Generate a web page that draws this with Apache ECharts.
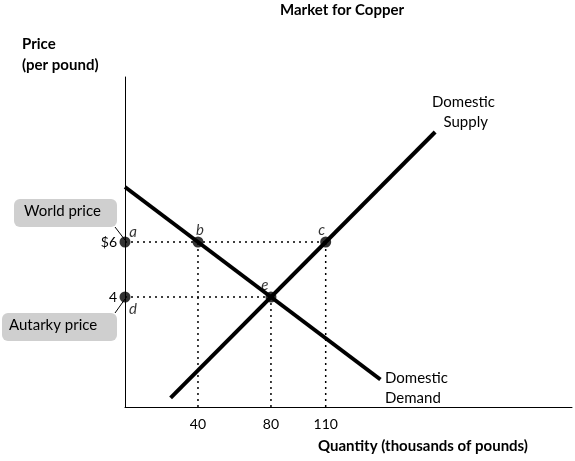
<!DOCTYPE html>
<html>
<head>
<meta charset="utf-8">
<script src="https://cdn.jsdelivr.net/npm/echarts@6/dist/echarts.min.js"></script>
<style>body{margin:0}#main{width:575px;height:461px}</style>
</head>
<body>
<div id="main"></div>
<script>
// data
var demand = [[0, 8], [140, 1]];
var supply = [[25, 0.333], [170, 10]];
var points = [
    {name: 'a', value: [0, 6], pos: [8, -10]},
    {name: 'b', value: [40, 6], pos: [2, -12]},
    {name: 'c', value: [110, 6], pos: [-4, -12]},
    {name: 'e', value: [80, 4], pos: [-6, -12]},
    {name: 'd', value: [0, 4], pos: [8, 12]}
];
var xTicks = [40, 80, 110];
var yTicks = [4, 6];
var dotted = [
    [[0, 6], [110, 6]], [[0, 4], [80, 4]],
    [[40, 0], [40, 6]], [[80, 0], [80, 4]], [[110, 0], [110, 6]]
];

var font = 'Lato';
var myChart = echarts.init(document.getElementById('main'));
var series = [];
dotted.forEach(function (d) {
    series.push({type: 'line', data: d, symbol: 'none', silent: true,
        lineStyle: {color: '#000', width: 1.5, type: [2, 4]}});
});
series.push({type: 'line', data: demand, symbol: 'none', lineStyle: {color: '#000', width: 4}});
series.push({type: 'line', data: supply, symbol: 'none', lineStyle: {color: '#000', width: 4}});
series.push({
    type: 'scatter', symbolSize: 11, itemStyle: {color: '#000'},
    data: points.map(function (p) {
        return {value: p.value, label: {show: true, formatter: p.name, offset: p.pos}};
    }),
    label: {position: 'inside', color: '#000', fontSize: 15, fontStyle: 'italic', fontFamily: font},
    z: 5
});

var option = {
    animation: false,
    textStyle: {fontFamily: font},
    grid: {left: 125, right: 3, top: 77, bottom: 54},
    xAxis: {
        type: 'value', min: 0, max: 245, splitLine: {show: false},
        axisLine: {lineStyle: {color: '#000', width: 1}},
        axisTick: {show: false},
        axisLabel: {customValues: xTicks, color: '#000', fontSize: 14, margin: 10, fontFamily: font}
    },
    yAxis: {
        type: 'value', min: 0, max: 12, splitLine: {show: false},
        axisLine: {show: true, lineStyle: {color: '#000', width: 1}},
        axisTick: {show: false},
        axisLabel: {customValues: yTicks, color: '#000', fontSize: 14, margin: 8, fontFamily: font,
            formatter: function (v) { return v === 6 ? '$6' : String(v); }}
    },
    graphic: [
        {type: 'text', left: 'center', top: 3, style: {text: 'Market for Copper', x: 340, font: 'bold 15px Lato', fill: '#000'}, left: 280},
        {type: 'text', left: 20, top: 34, style: {text: 'Price\n(per pound)', font: 'bold 15px Lato', fill: '#000', align: 'center', lineHeight: 21}, left: 22},
        {type: 'text', left: 318, top: 439, style: {text: 'Quantity (thousands of pounds)', font: 'bold 15px Lato', fill: '#000'}},
        {type: 'text', left: 432, top: 92, style: {text: 'Domestic\n   Supply', font: '15px Lato', fill: '#000', lineHeight: 20}},
        {type: 'text', left: 385, top: 368, style: {text: 'Domestic\nDemand', font: '15px Lato', fill: '#000', lineHeight: 20}},
        {type: 'rect', shape: {x: 14, y: 199, width: 103, height: 28, r: 6}, style: {fill: '#cfcfcf'}},
        {type: 'text', left: 24, top: 204, style: {text: 'World price', font: '15px Lato', fill: '#000'}},
        {type: 'line', shape: {x1: 115, y1: 227, x2: 125, y2: 240}, style: {stroke: '#000', lineWidth: 1}},
        {type: 'rect', shape: {x: 2, y: 313, width: 115, height: 28, r: 6}, style: {fill: '#cfcfcf'}},
        {type: 'text', left: 9, top: 318, style: {text: 'Autarky price', font: '15px Lato', fill: '#000'}},
        {type: 'line', shape: {x1: 115, y1: 313, x2: 125, y2: 299}, style: {stroke: '#000', lineWidth: 1}}
    ],
    series: series
};
myChart.setOption(option);
</script>
</body>
</html>
